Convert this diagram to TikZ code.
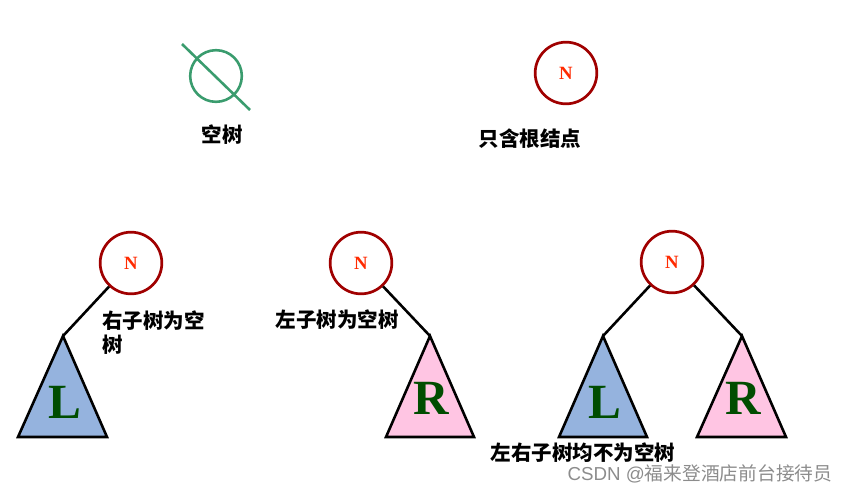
\documentclass[tikz,border=0pt]{standalone}
\usepackage{fontspec}
\usepackage{tikz}
\usetikzlibrary{positioning}
\newfontfamily\cjk{Noto Sans CJK SC}
\newfontfamily\timesfont{Liberation Serif}
\setsansfont{Liberation Sans}
\definecolor{emptygreen}{HTML}{3A9C6E}
\definecolor{rootred}{HTML}{A00000}
\definecolor{letterN}{HTML}{FF2A00}
\definecolor{leafgreen}{HTML}{004D00}
\definecolor{ltreeblue}{HTML}{95B3DE}
\definecolor{rtreepink}{HTML}{FFC5E3}

\begin{document}
\begin{tikzpicture}[
    x=0.03cm, y=-0.03cm,
    root/.style={circle, draw=rootred, line width=2.3pt, fill=white, minimum size=1.85cm, inner sep=0pt, text=letterN, font=\timesfont\bfseries\fontsize{16}{16}\selectfont},
    leaf/.style={text=leafgreen, font=\timesfont\bfseries\fontsize{42}{42}\selectfont, inner sep=0pt},
    label/.style={font=\cjk\bfseries\fontsize{17.5}{21}\selectfont, inner sep=0pt, align=left},
    edge/.style={line width=2.2pt, black},
    ltree/.style={draw=black, line width=2.2pt, fill=ltreeblue, line join=miter},
    rtree/.style={draw=black, line width=2.2pt, fill=rtreepink, line join=miter},
]
\useasboundingbox (0,0) rectangle (851,492);

% Empty tree
\node[circle, draw=emptygreen, line width=2.2pt, minimum size=1.55cm, inner sep=0pt] (empty) at (216,76) {};
\draw[emptygreen, line width=2.2pt] (182,44) -- (250,110);
\node[label] (emptytxt) at (222,135) {空树};

% Root only
\node[root] (n0) at (566,73) {N};
\node[label] (rootonly) at (530,139) {只含根结点};

% Right subtree empty
\node[root] (n1) at (131,263) {N};
\coordinate (l1top) at (63,336);
\draw[ltree] (l1top) -- (18,437) -- (107,437) -- cycle;
\node[leaf] (l1) at (65,402) {L};
\draw[edge] (n1) -- (l1top);
\node[label, anchor=north west] (rempty) at (102,310) {右子树为空\\树};

% Left subtree empty
\node[root] (n2) at (361,263) {N};
\coordinate (r2top) at (430,336);
\draw[rtree] (r2top) -- (386,437) -- (474,437) -- cycle;
\node[leaf] (r2) at (431,398) {R};
\draw[edge] (n2) -- (r2top);
\node[label] (lempty) at (337,320) {左子树为空树};

% Both subtrees
\node[root] (n3) at (672,262) {N};
\coordinate (l3top) at (603,336);
\coordinate (r3top) at (742,336);
\draw[ltree] (l3top) -- (559,437) -- (647,437) -- cycle;
\draw[rtree] (r3top) -- (697,437) -- (786,437) -- cycle;
\node[leaf] (l3) at (605,402) {L};
\node[leaf] (r3) at (743,398) {R};
\draw[edge] (n3) -- (l3top);
\draw[edge] (n3) -- (r3top);
\node[label] (both) at (583,453) {左右子树均不为空树};

% Watermark
\node[font=\cjk\fontsize{16}{16}\selectfont, text=black!45, inner sep=0pt] (mark) at (700,474) {\sffamily CSDN @\cjk 福来登酒店前台接待员};

\end{tikzpicture}
\end{document}
